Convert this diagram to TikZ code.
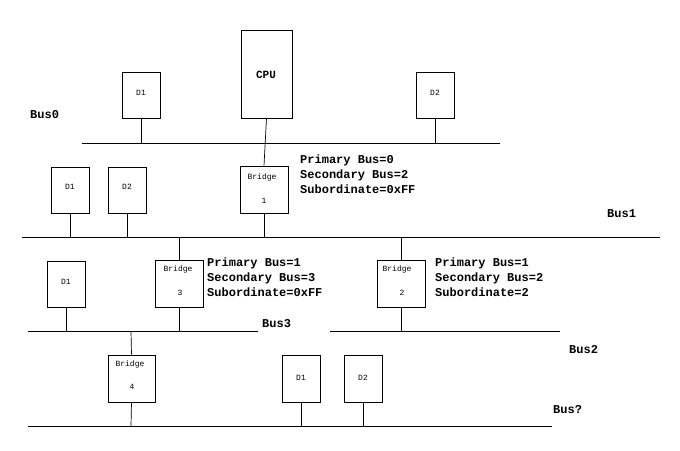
\documentclass[tikz,border=0pt]{standalone}
\usepackage{fontspec}
\setmainfont{Liberation Mono}
\begin{document}
\begin{tikzpicture}[x=1pt,y=-1pt,
 box/.style={draw,line width=0.7pt,inner sep=0pt},
 ln/.style={line width=0.7pt},
 lbl/.style={font=\bfseries\fontsize{12}{12}\selectfont,anchor=west,inner sep=0pt},
 info/.style={font=\bfseries\fontsize{12}{15}\selectfont,align=left,anchor=north west,inner sep=0pt},
 sm/.style={font=\fontsize{8}{8}\selectfont,inner sep=0pt}]
\useasboundingbox (0,0) rectangle (680,450);
% top
\node[box,minimum width=51,minimum height=88] (cpu) at (266.5,74) {};
\node[font=\bfseries\fontsize{11}{11}\selectfont] (cput) at (266,75) {CPU};
\node[box,minimum width=38,minimum height=46] (d1a) at (141,95) {};
\node[sm] (d1at) at (141,93) {D1};
\node[box,minimum width=38,minimum height=46] (d2a) at (435,95) {};
\node[sm] (d2at) at (435,93) {D2};
\coordinate (b0l) at (82,143); \coordinate (b0r) at (500,143);
\draw[ln] (b0l) -- (b0r);
\node[lbl] (bus0) at (30,115) {Bus0};
\coordinate (t1) at (141,143); \coordinate (t2) at (435,143);
\draw[ln] (d1a.south) -- (t1); \draw[ln] (d2a.south) -- (t2);
\node[box,minimum width=48,minimum height=47] (br1) at (264,189.5) {};
\node[sm] at (262,177) {Bridge}; \node[sm] at (264,201) {1};
\draw[ln] (cpu.south) -- (br1.north);
\node[info] (i1) at (300,155) {Primary Bus=0\\Secondary Bus=2\\Subordinate=0xFF};
% bus1
\node[box,minimum width=38,minimum height=46] (d1b) at (70,190) {};
\node[sm] at (70,187) {D1};
\node[box,minimum width=38,minimum height=46] (d2b) at (127,190) {};
\node[sm] at (127,187) {D2};
\coordinate (b1l) at (22,237); \coordinate (b1r) at (660,237);
\draw[ln] (b1l) -- (b1r);
\node[lbl] (bus1) at (607,214) {Bus1};
\coordinate (u1) at (70,237); \coordinate (u2) at (127,237); \coordinate (u3) at (264,237);
\draw[ln] (d1b.south) -- (u1); \draw[ln] (d2b.south) -- (u2); \draw[ln] (br1.south) -- (u3);
\node[box,minimum width=48,minimum height=47] (br3) at (179,283.5) {};
\node[sm] at (178,269) {Bridge}; \node[sm] at (180,293) {3};
\node[box,minimum width=48,minimum height=47] (br2) at (401,283.5) {};
\node[sm] at (397,269) {Bridge}; \node[sm] at (402,293) {2};
\coordinate (u4) at (179,237); \coordinate (u5) at (401,237);
\draw[ln] (u4) -- (br3.north); \draw[ln] (u5) -- (br2.north);
\node[info] (i3) at (207,258) {Primary Bus=1\\Secondary Bus=3\\Subordinate=0xFF};
\node[info] (i2) at (435,258) {Primary Bus=1\\Secondary Bus=2\\Subordinate=2};
\node[box,minimum width=38,minimum height=46] (d1c) at (66,284) {};
\node[sm] at (66,282) {D1};
% bus3 / bus2
\coordinate (b3l) at (28,331); \coordinate (b3r) at (258,331);
\draw[ln] (b3l) -- (b3r);
\node[lbl] (bus3) at (262,324) {Bus3};
\coordinate (b2l) at (330,331); \coordinate (b2r) at (560,331);
\draw[ln] (b2l) -- (b2r);
\node[lbl] (bus2) at (569,350) {Bus2};
\coordinate (v1) at (66,331); \coordinate (v2) at (179,331); \coordinate (v3) at (401,331);
\draw[ln] (d1c.south) -- (v1); \draw[ln] (br3.south) -- (v2); \draw[ln] (br2.south) -- (v3);
% bottom
\node[box,minimum width=47,minimum height=47] (br4) at (131.5,378.5) {};
\node[sm] at (130,364) {Bridge}; \node[sm] at (132,387) {4};
\coordinate (v4) at (131,331);
\draw[ln] (v4) -- (br4.north);
\node[box,minimum width=38,minimum height=47] (d1d) at (301,378.5) {};
\node[sm] at (301,378) {D1};
\node[box,minimum width=38,minimum height=47] (d2d) at (363,378.5) {};
\node[sm] at (363,378) {D2};
\coordinate (bql) at (28,426); \coordinate (bqr) at (552,426);
\draw[ln] (bql) -- (bqr);
\coordinate (w1) at (131,426); \coordinate (w2) at (301,426); \coordinate (w3) at (363,426);
\draw[ln] (br4.south) -- (w1); \draw[ln] (d1d.south) -- (w2); \draw[ln] (d2d.south) -- (w3);
\node[lbl] (busq) at (553,410) {Bus?};
\end{tikzpicture}
\end{document}
